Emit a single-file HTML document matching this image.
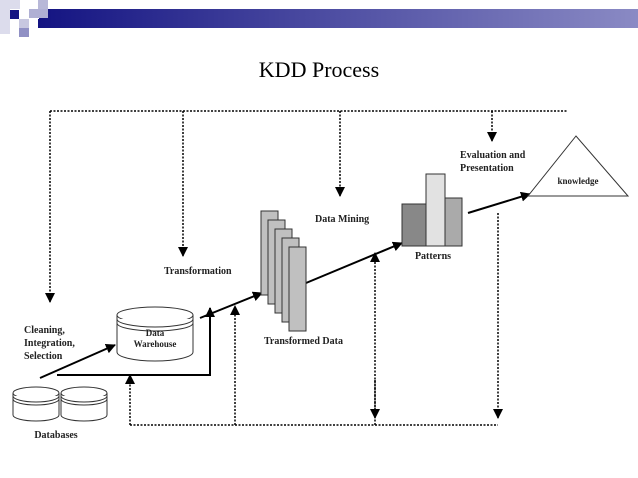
<!DOCTYPE html>
<html><head><style>body{margin:0;background:#fff}svg{display:block}text{font-family:"Liberation Serif",serif}</style></head><body>
<svg width="638" height="478" viewBox="0 0 638 478" xmlns="http://www.w3.org/2000/svg">
<defs>
<linearGradient id="g" x1="0" x2="1"><stop offset="0" stop-color="#141482"/><stop offset="1" stop-color="#8a8ac4"/></linearGradient>
<marker id="a" markerWidth="10" markerHeight="10" refX="9" refY="5" orient="auto" markerUnits="userSpaceOnUse"><path d="M0,0 L10,5 L0,10z" fill="#000"/></marker>
</defs>
<rect x="38" y="9" width="600" height="19" fill="url(#g)"/>
<rect x="0" y="0" width="20" height="9" fill="#dcdcec"/>
<rect x="0" y="9" width="10" height="25" fill="#dcdcec"/>
<rect x="29" y="9" width="10" height="10" fill="#fff"/>
<rect x="38" y="0" width="10" height="9" fill="#b8b8d8"/>
<rect x="29" y="9" width="19" height="9" fill="#b0b0d4"/>
<rect x="10" y="10" width="9" height="9" fill="#141482"/>
<rect x="19" y="19" width="10" height="9" fill="#c8c8e0"/>
<rect x="19" y="28" width="10" height="9" fill="#9090c4"/>
<text x="319" y="77" font-size="22" text-anchor="middle">KDD Process</text>
<g stroke="#000" stroke-width="1.5" stroke-dasharray="2,1.5" fill="none">
<path d="M50,111 H567"/>
<path d="M50,111 V302" marker-end="url(#a)"/>
<path d="M183,111 V256" marker-end="url(#a)"/>
<path d="M340,111 V196" marker-end="url(#a)"/>
<path d="M492,111 V141" marker-end="url(#a)"/>
<path d="M130,425 H498"/>
<path d="M130,425 V375" marker-end="url(#a)"/>
<path d="M235,425 V306" marker-end="url(#a)"/>
<path d="M375,425 V253" marker-end="url(#a)"/>
<path d="M375,380 V418" marker-end="url(#a)"/>
<path d="M498,213 V418" marker-end="url(#a)"/>
</g>
<g stroke="#000" stroke-width="2" fill="none">
<path d="M40,378 L115,345" marker-end="url(#a)"/>
<path d="M57,375 H210 V308" marker-end="url(#a)"/>
<path d="M200,318 L262,293" marker-end="url(#a)"/>
<path d="M306,283 L402,243" marker-end="url(#a)"/>
<path d="M468,213 L530,194" marker-end="url(#a)"/>
</g>
<g stroke="#333" stroke-width="1" fill="#fff">
<path d="M117,315 V352 A38,9 0 0 0 193,352 V315"/>
<ellipse cx="155" cy="315" rx="38" ry="8"/>
<path d="M117,319 A38,8 0 0 0 193,319 M117,323 A38,8 0 0 0 193,323"/>
<path d="M13,393 V415 A23,6 0 0 0 59,415 V393"/>
<ellipse cx="36" cy="393" rx="23" ry="6"/>
<path d="M13,396 A23,6 0 0 0 59,396 M13,399 A23,6 0 0 0 59,399"/>
<path d="M61,393 V415 A23,6 0 0 0 107,415 V393"/>
<ellipse cx="84" cy="393" rx="23" ry="6"/>
<path d="M61,396 A23,6 0 0 0 107,396 M61,399 A23,6 0 0 0 107,399"/>
</g>
<g stroke="#333" stroke-width="1" fill="#c0c0c0">
<rect x="261" y="211" width="17" height="84"/>
<rect x="268" y="220" width="17" height="84"/>
<rect x="275" y="229" width="17" height="84"/>
<rect x="282" y="238" width="17" height="84"/>
<rect x="289" y="247" width="17" height="84"/>
<rect x="402" y="204" width="24" height="42" fill="#888"/>
<rect x="426" y="174" width="19" height="72" fill="#e2e2e2"/>
<rect x="445" y="198" width="17" height="48" fill="#aaa"/>
</g>
<path d="M528,196 L628,196 L576,136z" fill="#fff" stroke="#333"/>
<g font-size="10" font-weight="bold" fill="#222">
<text x="155" y="336" text-anchor="middle" font-size="9">Data</text>
<text x="155" y="347" text-anchor="middle" font-size="9">Warehouse</text>
<text x="24" y="333">Cleaning,</text>
<text x="24" y="346">Integration,</text>
<text x="24" y="359">Selection</text>
<text x="56" y="438" text-anchor="middle">Databases</text>
<text x="164" y="274">Transformation</text>
<text x="264" y="344">Transformed Data</text>
<text x="315" y="222">Data Mining</text>
<text x="433" y="259" text-anchor="middle">Patterns</text>
<text x="460" y="158">Evaluation and</text>
<text x="460" y="171">Presentation</text>
<text x="578" y="184" text-anchor="middle" font-size="9">knowledge</text>
</g>
</svg>
</body></html>
